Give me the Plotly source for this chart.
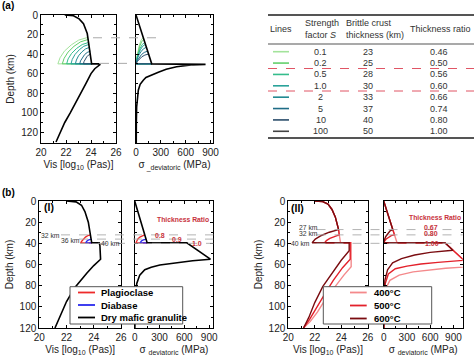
import plotly.graph_objects as go

W, H = 474, 361
FONT = "Liberation Sans, Arial, sans-serif"

# ======================= DATA =======================
# ---- tick labels ----
vis_ticks = [20, 22, 24, 26]
sig_ticks = [0, 300, 600, 900]
depth_ticks = [0, 20, 40, 60, 80, 100, 120]

# ---- Panel (a): table ----
strength_factor = ["0.1", "0.2", "0.5", "1.0", "2", "5", "10", "100"]
brittle_thickness_km = ["23", "25", "28", "30", "33", "37", "40", "50"]
thickness_ratio = ["0.46", "0.50", "0.56", "0.60", "0.66", "0.74", "0.80", "1.00"]

# ---- Panel (a): S = 100 profiles (black) ----
a_vis_x = [21.9, 22.6, 23.05, 23.4, 23.7, 23.9, 24.0, 24.05, 24.6, 24.7, 24.3, 24.0,
           23.6, 23.2, 22.8, 22.35, 21.9, 21.55, 21.2]
a_vis_d = [0, 0.8, 4, 9, 19, 35, 45, 50, 50, 51, 55, 60, 70, 80, 90, 100, 110, 120, 130]
a_sig_x = [0, 190, 840, 690, 490, 365, 270, 190, 120, 88, 50, 28, 15, 8, 4, 3]
a_sig_d = [0, 50, 50.5, 51, 53, 55.5, 58.5, 61, 64, 66.7, 71, 77, 85, 94, 110, 131]

# ---- Panel (a): weakened brittle crust, S = 0.1 ... 10 ----
a_weak_d = [
    [23, 25.7, 30.6, 37.0, 43.8, 50, 50],
    [25, 27.5, 32.0, 38.0, 44.3, 50, 50],
    [28, 30.2, 34.2, 39.4, 44.9, 50, 50],
    [30, 32.0, 35.6, 40.4, 45.4, 50, 50],
    [33, 34.7, 37.8, 41.8, 46.1, 50, 50],
    [37, 38.3, 40.6, 43.8, 47.0, 50, 50],
    [40, 41.0, 42.8, 45.2, 47.7, 50, 50],
]
a_weak_vis_x = [
    [23.72, 23.01, 22.42, 21.87, 21.52, 21.35, 24.05],
    [23.78, 23.16, 22.64, 22.16, 21.85, 21.70, 24.05],
    [23.83, 23.30, 22.85, 22.44, 22.17, 22.05, 24.05],
    [23.86, 23.42, 23.06, 22.72, 22.50, 22.40, 24.05],
    [23.90, 23.56, 23.27, 23.00, 22.83, 22.75, 24.05],
    [23.95, 23.70, 23.48, 23.29, 23.16, 23.10, 24.05],
    [23.97, 23.80, 23.66, 23.53, 23.44, 23.40, 24.05],
]
a_weak_sig_x = [
    [87, 61.8, 40.8, 21.5, 8.9, 3, 190],
    [95, 67.4, 44.4, 23.2, 9.4, 3, 190],
    [106, 75.1, 49.4, 25.7, 10.2, 3, 190],
    [114, 80.7, 53.0, 27.4, 10.8, 3, 190],
    [125, 88.4, 57.9, 29.8, 11.5, 3, 190],
    [141, 99.6, 65.1, 33.4, 12.7, 3, 190],
    [152, 107.3, 70.0, 35.8, 13.4, 3, 190],
]

# ---- Panel (b)(I): rheology ----
b1_names = ["Plagioclase", "Diabase", "Dry mafic granulite"]
b1_vis_x = [22.0, 22.7, 23.1, 23.35, 23.6, 23.77, 23.85, 24.4, 24.45, 24.5, 24.0, 23.5,
            23.0, 22.6, 22.0, 21.6, 21.15]
b1_vis_d = [0, 0.8, 4, 10, 20, 32, 39.5, 39.5, 42, 55, 61, 68, 76, 82, 95, 107, 120]
b1_sig_x = [0, 150, 630, 915, 700, 547, 420, 304, 200, 122, 61, 25, 8, 3, 2]
b1_sig_d = [0, 39.5, 39.5, 55, 56.5, 58, 59, 60.5, 62.5, 65, 70, 78, 90, 105, 120]
b1_plag_d = [32, 32.75, 34.1, 35.9, 37.8, 39.5, 39.5]
b1_plag_vis_x = [23.77, 23.56, 23.39, 23.23, 23.13, 23.03, 23.85]
b1_plag_sig_x = [121, 89.2, 62.7, 38.3, 22.4, 15, 150]
b1_diab_d = [36, 36.35, 37.0, 37.8, 38.7, 39.5, 39.5]
b1_diab_vis_x = [23.81, 23.69, 23.59, 23.5, 23.44, 23.4, 23.85]
b1_diab_sig_x = [136.7, 115.2, 97.3, 80.8, 70, 65, 150]
b1_depth_labels = ["32 km", "36 km", "40 km"]
b1_ratio_labels = ["0.8", "0.9", "1.0"]

# ---- Panel (b)(II): temperature ----
b2_names = ["400°C", "500°C", "600°C"]
b2_vis_x = [
    [22.0, 22.6, 23.0, 23.3, 23.55, 23.7, 23.8, 23.85, 23.95, 24.75, 24.75, 24.2, 23.5,
     22.8, 22.2, 21.65, 21.15],
    [22.0, 22.6, 23.0, 23.3, 23.55, 23.7, 23.8, 23.85, 23.47, 23.14, 22.88, 22.75, 24.68,
     24.68, 24.1, 23.4, 22.75, 22.1, 21.6, 21.15],
    [22.0, 22.6, 23.0, 23.3, 23.55, 23.7, 23.8, 23.1, 22.5, 22.04, 21.8, 24.6, 24.6, 24.0,
     23.3, 22.6, 22.0, 21.55, 21.15],
]
b2_vis_d = [
    [0, 0.6, 3, 8, 15, 22, 27, 32, 39.5, 39.5, 62, 70, 81, 93, 105, 114, 120],
    [0, 0.6, 3, 8, 15, 22, 27, 32, 33.5, 35.4, 37.4, 39.5, 39.5, 55, 63, 75, 88, 102, 112, 120],
    [0, 0.6, 3, 8, 15, 22, 27, 29.5, 32.6, 36, 39.5, 39.5, 47, 56, 68, 81, 96, 110, 120],
]
b2_sig_x = [
    [0, 172, 790, 1125, 800, 580, 380, 200, 80, 25, 6, 2],
    [0, 139, 97.9, 63.7, 32.1, 11.6, 2, 790, 1036, 700, 480, 300, 150, 60, 20, 5, 2],
    [0, 117, 82.5, 53.8, 27.3, 10, 2, 790, 894, 600, 400, 230, 115, 50, 15, 5, 2],
]
b2_sig_d = [
    [0, 39.5, 39.5, 62, 63.5, 65, 67, 70, 75, 83, 100, 120],
    [0, 32, 32.75, 34.1, 35.9, 37.8, 39.5, 39.5, 56, 58, 59.5, 61.5, 64, 69, 78, 95, 120],
    [0, 27, 28.25, 30.5, 33.5, 36.6, 39.5, 39.5, 46.5, 48.5, 51, 54.5, 58.5, 65, 75, 90, 120],
]
b2_depth_labels = ["27 km", "32 km", "40 km"]
b2_ratio_labels = ["0.67", "0.80", "1.00"]
b2_depths = [27, 32, 40]
b1_depths = [32, 36, 40]

# ======================= STYLE =======================
a_colors = ["#a3e39b", "#63cf6b", "#35bd8c", "#2aa39a", "#238a92", "#1f6c86", "#2b4d6b", "#000000"]
b1_colors = ["#ee2a2a", "#2a2aee", "#000000"]
b2_colors = ["#f4898b", "#e3212b", "#7a0c10"]
RATIO_RED = "#c8323c"
DASH_GRAY = "#aaaaaa"
TXT = "#222222"


def px(x):
    return x / W


def py(y):
    return 1 - y / H


fig = go.Figure()


def line(x, y, ax, color, width, name=None):
    fig.add_trace(go.Scatter(
        x=x, y=y, mode="lines", name=name, showlegend=False,
        xaxis="x" + ax, yaxis="y" + ax,
        line=dict(color=color, width=width, shape="linear"),
        hoverinfo="skip"))


# ---- panel (a) ----
for i in range(7):
    line(a_weak_vis_x[i], a_weak_d[i], "", a_colors[i], 1.0, "S = " + strength_factor[i])
    line(a_weak_sig_x[i], a_weak_d[i], "2", a_colors[i], 1.0, "S = " + strength_factor[i])
line(a_vis_x, a_vis_d, "", "black", 1.6, "S = 100")
line(a_sig_x, a_sig_d, "2", "black", 1.6, "S = 100")

# ---- panel (b)(I) ----
line(b1_plag_vis_x, b1_plag_d, "3", b1_colors[0], 1.3, b1_names[0])
line(b1_diab_vis_x, b1_diab_d, "3", b1_colors[1], 1.3, b1_names[1])
line(b1_vis_x, b1_vis_d, "3", "black", 1.6, b1_names[2])
line(b1_plag_sig_x, b1_plag_d, "4", b1_colors[0], 1.3, b1_names[0])
line(b1_diab_sig_x, b1_diab_d, "4", b1_colors[1], 1.3, b1_names[1])
line(b1_sig_x, b1_sig_d, "4", "black", 1.6, b1_names[2])

# ---- panel (b)(II) ----
for i in range(3):
    line(b2_vis_x[i], b2_vis_d[i], "5", b2_colors[i], 1.4, b2_names[i])
    line(b2_sig_x[i], b2_sig_d[i], "6", b2_colors[i], 1.4, b2_names[i])


# ======================= AXES =======================
def base_axis():
    return dict(showline=True, linecolor="black", linewidth=1, mirror="allticks",
                ticks="inside", ticklen=3, tickwidth=1, tickcolor="black",
                showgrid=False, zeroline=False, automargin=False,
                tickfont=dict(family=FONT, size=10, color=TXT))


def xaxis(dom, rng, tickvals, minor_dtick, title, anchor):
    d = base_axis()
    d.update(domain=[px(dom[0]), px(dom[1])], range=rng, tickmode="array",
             tickvals=tickvals, anchor=anchor,
             minor=dict(ticks="inside", ticklen=2, tickwidth=1, tickcolor="black",
                        dtick=minor_dtick, tick0=rng[0], showgrid=False),
             title=dict(text=title, font=dict(family=FONT, size=10, color=TXT), standoff=3))
    return d


def yaxis(dom, rng, anchor, title=None):
    d = base_axis()
    d.update(domain=[py(dom[1]), py(dom[0])], range=rng, tickmode="array",
             tickvals=depth_ticks, anchor=anchor, showticklabels=title is not None,
             minor=dict(ticks="inside", ticklen=2, tickwidth=1, tickcolor="black",
                        dtick=10, tick0=0, showgrid=False))
    if title is not None:
        d["title"] = dict(text=title, font=dict(family=FONT, size=10, color=TXT), standoff=4)
    return d


VIS_T = "Vis [log<sub>10</sub> (Pas)]"
SIG_Ta = "σ<sub> _deviatoric</sub> (MPa)"
SIG_Tb = "σ <sub>deviatoric</sub> (MPa)"

ya = [15, 143]
yb = [201, 328]
layout_axes = dict(
    xaxis=xaxis([41, 116], [20, 26], vis_ticks, 1, VIS_T, "y"),
    yaxis=yaxis(ya, [131, 0], "x", "Depth (km)"),
    xaxis2=xaxis([136, 213], [0, 930], sig_ticks, 150, SIG_Ta, "y2"),
    yaxis2=yaxis(ya, [131, 0], "x2"),
    xaxis3=xaxis([39.3, 121], [20, 26], vis_ticks, 1, VIS_T, "y3"),
    yaxis3=yaxis(yb, [120, 0], "x3", "Depth (km)"),
    xaxis4=xaxis([134.7, 213.3], [0, 950], sig_ticks, 150, SIG_Tb, "y4"),
    yaxis4=yaxis(yb, [120, 0], "x4"),
    xaxis5=xaxis([288.3, 367.7], [20, 26], vis_ticks, 1, VIS_T, "y5"),
    yaxis5=yaxis(yb, [120, 0], "x5", "Depth (km)"),
    xaxis6=xaxis([383.7, 462.7], [0, 1020], sig_ticks, 150, SIG_Tb, "y6"),
    yaxis6=yaxis(yb, [120, 0], "x6"),
)

# ======================= SHAPES & TEXT =======================
shapes = []
annots = []


def hline(x0, x1, y, color, width, dash="solid"):
    shapes.append(dict(type="line", xref="paper", yref="paper", x0=px(x0), x1=px(x1),
                       y0=py(y), y1=py(y), line=dict(color=color, width=width, dash=dash),
                       layer="above"))


def text(t, x, y, size=10, color=TXT, bold=False, xanchor="center", align="center"):
    annots.append(dict(text=("<b>%s</b>" % t) if bold else t, x=px(x), y=py(y),
                       xref="paper", yref="paper", showarrow=False, xanchor=xanchor,
                       yanchor="middle", align=align,
                       font=dict(family=FONT, size=size, color=color)))


def ypx_b(depth):
    return yb[0] + depth / 120 * (yb[1] - yb[0])


def ypx_a(depth):
    return ya[0] + depth / 131 * (ya[1] - ya[0])


# panel labels
text("(a)", 0, 6, 10, "black", True, "left")
text("(b)", 0, 192, 10, "black", True, "left")
text("(I)", 42, 207.5, 10.5, "black", True, "left")
text("(II)", 288.5, 207.8, 10.5, "black", True, "left")

# (a) dashed connectors
hline(93, 157, ypx_a(23.3), DASH_GRAY, 1, "dash")
hline(100, 136, ypx_a(49.5), DASH_GRAY, 1, "dash")

# (a) table
TX0, TX1 = 268, 474
hline(TX0, TX1, 15, "#555555", 2)
hline(TX0, TX1, 44, "#555555", 1.2)
hline(TX0, TX1, 138, "#555555", 2)
text("Lines", 281, 28.5, 9, "#333333")
text("Strength<br>factor <i>S</i>", 302.5, 28.5, 9, "#333333", False, "left", "left")
text("Brittle crust<br>thickness (km)", 344, 28.5, 9, "#333333", False, "left", "left")
text("Thickness ratio", 440, 28.5, 9, "#333333")
row_y0, row_dy = 51.7, 11.37
for i in range(8):
    yy = row_y0 + i * row_dy
    hline(273, 289, yy, a_colors[i] if i < 7 else "#444444", 1.6)
    text(strength_factor[i], 320.5, yy, 9, "#333333")
    text(brittle_thickness_km[i], 368.3, yy, 9, "#333333")
    text(thickness_ratio[i], 438.5, yy, 9, "#333333")
hline(TX0, TX1, 68.5, "#e05565", 1, "dash")
hline(TX0, TX1, 91, "#e05565", 1, "dash")

# (b)(I) dashed depth lines & labels
b1_dash_x0 = [61, 79, 80]
for k in range(3):
    hline(b1_dash_x0[k], 213.3, ypx_b(b1_depths[k]), DASH_GRAY, 0.9, "dash")
b1_lab_xy = [(50.8, 235.3), (70, 240.3), (110.5, 243.8)]
for k in range(3):
    text(b1_depth_labels[k], b1_lab_xy[k][0], b1_lab_xy[k][1], 6.8, "#333333")
text("Thickness Ratio", 183.3, 219, 6.8, RATIO_RED, True)
b1_rat_xy = [(160, 235), (176.7, 239.2), (196.7, 243.3)]
for k in range(3):
    text(b1_ratio_labels[k], b1_rat_xy[k][0], b1_rat_xy[k][1], 7, RATIO_RED, True)

# (b)(II) dashed depth lines & labels
for k in range(3):
    hline(316.5, 462.7, ypx_b(b2_depths[k]), DASH_GRAY, 0.9, "dash")
b2_lab_xy = [(308.3, 227.8), (308.3, 233.2), (300.8, 243.3)]
for k in range(3):
    text(b2_depth_labels[k], b2_lab_xy[k][0], b2_lab_xy[k][1], 6.8, "#333333")
text("Thickness Ratio", 435, 217.3, 6.8, RATIO_RED, True)
b2_rat_xy = [(430.8, 227.8), (430.8, 233.2), (431.7, 243.3)]
for k in range(3):
    text(b2_ratio_labels[k], b2_rat_xy[k][0], b2_rat_xy[k][1], 7, RATIO_RED, True)


# legends (boxes drawn over the curves, like the original)
def legend_box(x0, x1, y0, y1, names, colors, rows, sx0, sx1, tx):
    shapes.append(dict(type="rect", xref="paper", yref="paper", x0=px(x0), x1=px(x1),
                       y0=py(y1), y1=py(y0), fillcolor="white",
                       line=dict(color="#555555", width=1), layer="above"))
    for k in range(len(names)):
        hline(sx0, sx1, rows[k], colors[k], 1.8)
        text(names[k], tx, rows[k], 9.5, "black", True, "left")


legend_box(70, 182.7, 286.7, 324, b1_names, b1_colors, [292.5, 305, 317.5], 78, 95, 99)
legend_box(323.3, 431.7, 286.7, 324, b2_names, b2_colors, [292.5, 305.5, 318.5], 350, 366.7, 371.5)

fig.update_layout(
    width=W, height=H, autosize=False,
    margin=dict(l=0, r=0, t=0, b=0),
    paper_bgcolor="white", plot_bgcolor="white",
    font=dict(family=FONT, size=10, color=TXT),
    showlegend=False, hovermode=False,
    shapes=shapes, annotations=annots,
    **layout_axes,
)

# remove the browser's default page margin so the 474x361 figure fills the window
fig.write_html("out.html",
               config={"displayModeBar": False, "staticPlot": True},
               post_script="document.body.style.margin='0px';document.body.style.overflow='hidden';")
